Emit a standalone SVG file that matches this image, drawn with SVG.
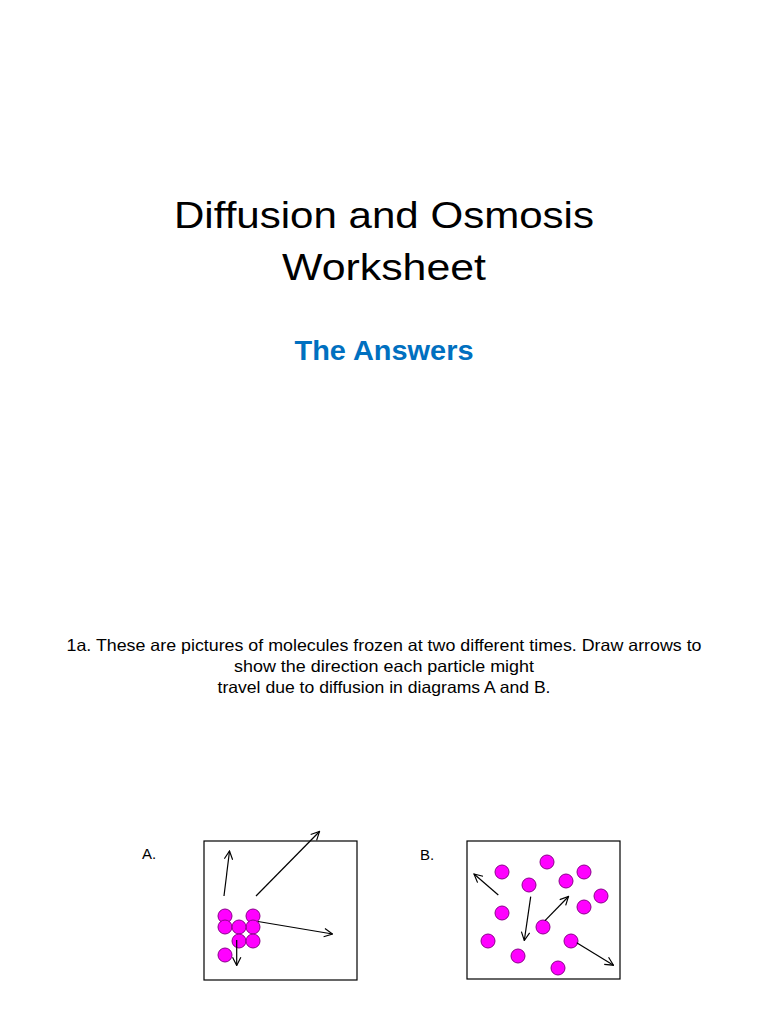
<svg xmlns="http://www.w3.org/2000/svg" width="768" height="1024" viewBox="0 0 768 1024">
<style>
.t{font-family:"Liberation Sans",Arial,sans-serif;fill:#000}
.p{fill:#FF00FF;stroke:#8B008B;stroke-width:1}
.a{stroke:#000;stroke-width:1.2;fill:none;marker-end:url(#ah)}
.box{fill:#fff;stroke:#000;stroke-width:1.2}
</style>
<defs>
<marker id="ah" viewBox="0 0 12 12" refX="11" refY="6" markerWidth="10" markerHeight="10" markerUnits="userSpaceOnUse" orient="auto">
<path d="M1,1 L11,6 L1,11" fill="none" stroke="#000" stroke-width="1.4"/>
</marker>
</defs>
<rect width="768" height="1024" fill="#fff"/>
<g id="title">
<text class="t" x="384" y="228" font-size="37" text-anchor="middle" textLength="420" lengthAdjust="spacingAndGlyphs">Diffusion and Osmosis</text>
<text class="t" x="384" y="280" font-size="37" text-anchor="middle" textLength="204" lengthAdjust="spacingAndGlyphs">Worksheet</text>
</g>
<g id="subtitle">
<text x="384" y="360" font-family="'Liberation Sans',Arial,sans-serif" font-weight="bold" font-size="28" fill="#0070C0" text-anchor="middle" textLength="179" lengthAdjust="spacingAndGlyphs">The Answers</text>
</g>
<g id="question">
<text class="t" x="384" y="651" font-size="16.5" text-anchor="middle" textLength="635" lengthAdjust="spacingAndGlyphs">1a. These are pictures of molecules frozen at two different times.  Draw arrows to</text>
<text class="t" x="384" y="672" font-size="16.5" text-anchor="middle" textLength="300" lengthAdjust="spacingAndGlyphs">show the direction each particle might</text>
<text class="t" x="384" y="693" font-size="16.5" text-anchor="middle" textLength="333" lengthAdjust="spacingAndGlyphs">travel due to diffusion in diagrams A and B.</text>
</g>
<g id="diagramA">
<text class="t" x="142" y="859" font-size="15">A.</text>
<rect class="box" x="204" y="841" width="153" height="139"/>
<circle class="p" cx="225" cy="916" r="7"/>
<circle class="p" cx="225" cy="927" r="7"/>
<circle class="p" cx="253" cy="916" r="7"/>
<circle class="p" cx="253" cy="927" r="7"/>
<circle class="p" cx="239" cy="927" r="7"/>
<circle class="p" cx="239" cy="941" r="7"/>
<circle class="p" cx="253" cy="941" r="7"/>
<circle class="p" cx="225" cy="955" r="7"/>
</g>
<g id="diagramB">
<text class="t" x="420" y="860" font-size="15">B.</text>
<rect class="box" x="467" y="841" width="153" height="138"/>
<circle class="p" cx="502" cy="872" r="7"/>
<circle class="p" cx="547" cy="862" r="7"/>
<circle class="p" cx="584" cy="872" r="7"/>
<circle class="p" cx="529" cy="885" r="7"/>
<circle class="p" cx="566" cy="881" r="7"/>
<circle class="p" cx="601" cy="896" r="7"/>
<circle class="p" cx="584" cy="907" r="7"/>
<circle class="p" cx="502" cy="913" r="7"/>
<circle class="p" cx="543" cy="927" r="7"/>
<circle class="p" cx="488" cy="941" r="7"/>
<circle class="p" cx="571" cy="941" r="7"/>
<circle class="p" cx="518" cy="956" r="7"/>
<circle class="p" cx="558" cy="968" r="7"/>
</g>
<g id="connectors">
<line class="a" x1="224" y1="896" x2="229.5" y2="851"/>
<line class="a" x1="256" y1="896" x2="319.5" y2="831.5"/>
<line class="a" x1="258" y1="921.5" x2="332.5" y2="934"/>
<line class="a" x1="236.7" y1="940" x2="236.7" y2="965.5"/>
<line class="a" x1="498.3" y1="895" x2="474" y2="874"/>
<line class="a" x1="530.7" y1="896.7" x2="524.3" y2="940.5"/>
<line class="a" x1="545" y1="920.7" x2="568.5" y2="896.5"/>
<line class="a" x1="576.7" y1="942.7" x2="613.5" y2="965.2"/>
</g>
</svg>
